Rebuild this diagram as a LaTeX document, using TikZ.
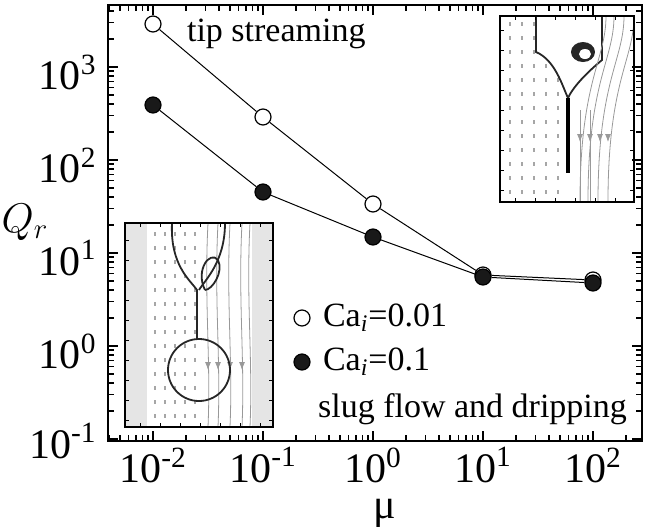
\documentclass[tikz,border=0pt]{standalone}
\usepackage{fontspec}
\setmainfont{Liberation Serif}
\usetikzlibrary{arrows.meta}
\begin{document}
\begin{tikzpicture}[x=0.5pt,y=-0.5pt,
  open/.style={circle,draw,line width=0.6pt,fill=white,minimum size=8pt,inner sep=0pt},
  full/.style={circle,draw,line width=0.6pt,fill=black!90,minimum size=8pt,inner sep=0pt},
  dline/.style={line width=0.5pt},
  lbl/.style={font=\fontsize{21}{21}\selectfont,inner sep=0pt},
  txt/.style={font=\fontsize{17}{17}\selectfont},
  vec/.style={gray!70,line width=0.6pt},
  strm/.style={gray!80,line width=0.4pt},
  iface/.style={black!85,line width=0.9pt}]
\useasboundingbox (0,0) rectangle (650,527);
% ---- bottom-left inset
\begin{scope}
\fill[gray!20] (125,223) rectangle (147,427);
\fill[gray!20] (252,223) rectangle (273,427);
\foreach \xx in {155,165,...,195} \foreach \yy in {232,246,...,420}
  \draw[vec] (\xx,\yy) -- (\xx,\yy+4);
\foreach \xx in {208,218,230,242,250} \draw[strm] (\xx,223) .. controls (\xx-4,300) and (\xx+3,360) .. (\xx,427);
\foreach \xx in {208,218,230,242} \draw[strm,-{Latex[length=4pt]}] (\xx,360) -- (\xx,370);
\draw[iface] (172,223) .. controls (170,265) and (190,280) .. (197,290) -- (197,338);
\draw[iface] (225,223) .. controls (225,262) and (205,280) .. (199,290);
\draw[iface] (205,290) .. controls (195,270) and (210,250) .. (218,260) .. controls (224,272) and (212,290) .. (205,290);
\draw[iface] (199,370) circle[radius=31];
\draw[line width=0.8pt] (125,223) rectangle (273,427);
\foreach \yy in {240,260,...,420} {\draw (125,\yy) -- (129,\yy); \draw (273,\yy) -- (269,\yy);}
\foreach \xx in {140,160,...,260} {\draw (\xx,427) -- (\xx,423); \draw (\xx,223) -- (\xx,227);}
\end{scope}
% ---- top-right inset
\begin{scope}
\foreach \xx in {510,522,534,546,558} \foreach \yy in {22,36,...,196}
  \draw[vec] (\xx,\yy) -- (\xx,\yy+4);
\fill[white] (536,16) -- (536,52) .. controls (555,60) and (562,85) .. (568,98) .. controls (574,85) and (590,70) .. (602,60) -- (602,16) -- cycle;
\draw[iface] (536,16) -- (536,52) .. controls (555,60) and (562,85) .. (568,98) .. controls (574,85) and (590,70) .. (602,60) -- (602,16);
\draw[line width=2pt] (568,98) -- (568,173);
\foreach \xx in {610,618,628,638} \draw[strm] (\xx-4,16) .. controls (\xx-4,60) and (\xx-30,80) .. (\xx-30,202);
\foreach \xx in {580,590} \draw[strm] (\xx,110) -- (\xx,202);
\foreach \xx in {580,590,600,608} \draw[strm,-{Latex[length=4pt]}] (\xx,134) -- (\xx,142);
\fill[black!85] (583,52) ellipse[x radius=12,y radius=10];
\fill[white] (585,54) ellipse[x radius=6,y radius=5];
\draw[line width=0.8pt] (500,16) rectangle (634,202);
\foreach \yy in {30,50,...,190} {\draw (500,\yy) -- (504,\yy); \draw (634,\yy) -- (630,\yy);}
\foreach \xx in {515,535,...,625} {\draw (\xx,202) -- (\xx,198); \draw (\xx,16) -- (\xx,20);}
\end{scope}
% ---- axes
\draw[line width=1.2pt] (108,5) rectangle (642,441);
\begin{scope}
\clip (108,5) rectangle (642,441);
\foreach \d in {-3,...,2} {
  \pgfmathsetmacro\xm{153+110*(\d+2)}
  \draw[line width=1pt] (\xm,441) -- (\xm,431); \draw[line width=1pt] (\xm,5) -- (\xm,15);
  \foreach \m in {2,...,9} {
    \pgfmathsetmacro\xn{153+110*(\d+2+log10(\m))}
    \draw[line width=0.8pt] (\xn,441) -- (\xn,435); \draw[line width=0.8pt] (\xn,5) -- (\xn,11);}
}
\foreach \d in {-1,...,3} {
  \pgfmathsetmacro\ym{253-93*(\d-1)}
  \draw[line width=1pt] (108,\ym) -- (118,\ym); \draw[line width=1pt] (642,\ym) -- (632,\ym);
  \foreach \m in {2,...,9} {
    \pgfmathsetmacro\yn{253-93*(\d-1+log10(\m))}
    \draw[line width=0.8pt] (108,\yn) -- (114,\yn); \draw[line width=0.8pt] (642,\yn) -- (636,\yn);}
}
\end{scope}
% tick labels
\foreach \d/\xx in {-2/153,-1/263,0/373,1/483,2/593}
  \node[lbl] (xl\d) at (\xx,465) {10\textsuperscript{\d}};
\foreach \d/\yy in {-1/441,0/351,1/258,2/165,3/72}
  \node[lbl,anchor=east] (yl\d) at (97,\yy) {10\textsuperscript{\d}};
\node[font=\fontsize{21}{21}\selectfont,inner sep=0pt] (mu) at (385,513) {μ};
\node[font=\fontsize{21}{21}\selectfont] (Q) at (25,222) {$Q_r$};
% data
\node[open] (a1) at (153,24) {};
\node[open] (a2) at (263,117) {};
\node[open] (a3) at (373,204) {};
\node[open] (a4) at (483,275) {};
\node[open] (a5) at (593,280) {};
\draw[dline] (a1) -- (a2) -- (a3) -- (a4) -- (a5);
\node[full] (b1) at (153,105) {};
\node[full] (b2) at (263,192) {};
\node[full] (b3) at (373,237) {};
\node[full] (b4) at (483,277) {};
\node[full] (b5) at (593,283) {};
\draw[dline] (b1) -- (b2) -- (b3) -- (b4) -- (b5);
% labels
\node[txt,anchor=west] (ts) at (180,34) {tip streaming};
\node[txt,anchor=east] (sf) at (634,409) {slug flow and dripping};
\node[open] (lo) at (302,318) {};
\node[txt,anchor=west] (lot) at (316,318) {Ca\textsubscript{\textit{i}}=0.01};
\node[full] (lf) at (302,362) {};
\node[txt,anchor=west] (lft) at (316,362) {Ca\textsubscript{\textit{i}}=0.1};
\end{tikzpicture}
\end{document}
